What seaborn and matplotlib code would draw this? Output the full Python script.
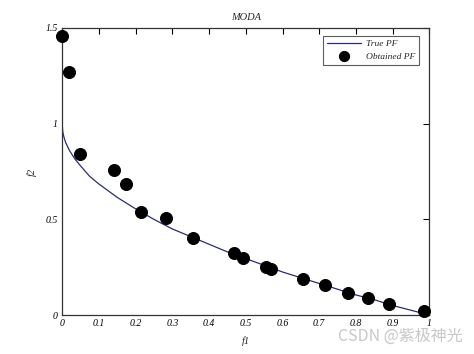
import numpy as np
import pandas as pd
import matplotlib
matplotlib.use("Agg")
import matplotlib.pyplot as plt
import seaborn as sns

# True Pareto front
true_f1 = [0.0, 0.002, 0.005, 0.01, 0.02, 0.035, 0.05, 0.075, 0.1, 0.15, 0.2, 0.25,
           0.3, 0.35, 0.4, 0.45, 0.5, 0.55, 0.6, 0.65, 0.7, 0.75, 0.8, 0.85, 0.9, 0.95, 1.0]
true_f2 = [1.0, 0.955, 0.93, 0.90, 0.86, 0.815, 0.78, 0.725, 0.685, 0.615, 0.555, 0.50,
           0.45, 0.41, 0.37, 0.33, 0.295, 0.26, 0.225, 0.195, 0.165, 0.135, 0.105, 0.08,
           0.05, 0.025, 0.0]

# Obtained Pareto front points
obt_f1 = [0.0, 0.02, 0.05, 0.14, 0.175, 0.215, 0.283, 0.355, 0.469, 0.492,
          0.556, 0.57, 0.657, 0.715, 0.778, 0.834, 0.889, 0.986]
obt_f2 = [1.46, 1.27, 0.843, 0.756, 0.685, 0.54, 0.509, 0.404, 0.326, 0.30,
          0.252, 0.243, 0.19, 0.155, 0.117, 0.09, 0.056, 0.02]

sns.set_style("white")
plt.rcParams["font.family"] = ["Liberation Serif", "DejaVu Serif"]

fig = plt.figure(figsize=(4.74, 3.54), dpi=100)
ax = fig.add_axes([0.131, 0.110, 0.775, 0.811])

sns.lineplot(x=true_f1, y=true_f2, ax=ax, color="#2b2b78", linewidth=0.9,
             label="True PF", sort=False)
sns.scatterplot(x=obt_f1, y=obt_f2, ax=ax, color="black", s=75, edgecolor="black",
                label="Obtained PF", zorder=3, clip_on=False)

ax.set_xlim(0, 1)
ax.set_ylim(0, 1.5)
ax.set_xticks(np.arange(0, 1.01, 0.1))
ax.set_xticklabels(["0", "0.1", "0.2", "0.3", "0.4", "0.5", "0.6", "0.7", "0.8", "0.9", "1"])
ax.set_yticks([0, 0.5, 1, 1.5])
ax.set_yticklabels(["0", "0.5", "1", "1.5"])
ax.tick_params(direction="in", length=4, width=0.8, top=True, right=True,
               labelsize=7, colors="black", pad=3)
for lab in ax.get_xticklabels() + ax.get_yticklabels():
    lab.set_fontstyle("italic")
for sp in ax.spines.values():
    sp.set_color("#333333")
    sp.set_linewidth(0.9)

ax.set_title("MODA", fontsize=7.5, fontstyle="italic", pad=6)
ax.set_xlabel("f1", fontsize=7.5, fontstyle="italic", labelpad=6)
ax.set_ylabel("f2", fontsize=7.5, fontstyle="italic", labelpad=6)

leg = ax.legend(loc="upper right", bbox_to_anchor=(0.985, 0.99), fontsize=6.8,
                frameon=True, fancybox=False, edgecolor="#333333",
                borderpad=0.45, handlelength=3.6, handletextpad=0.5,
                labelspacing=0.4, markerscale=0.85)
leg.get_frame().set_linewidth(0.8)
for t in leg.get_texts():
    t.set_fontstyle("italic")

fig.text(0.977, 0.025, "CSDN @紫极神光", ha="right", va="bottom", fontsize=11.5,
         color="#c8c8c8", family=["Noto Sans CJK SC", "DejaVu Sans"])

fig.savefig("out.png", dpi=100, facecolor="white")
